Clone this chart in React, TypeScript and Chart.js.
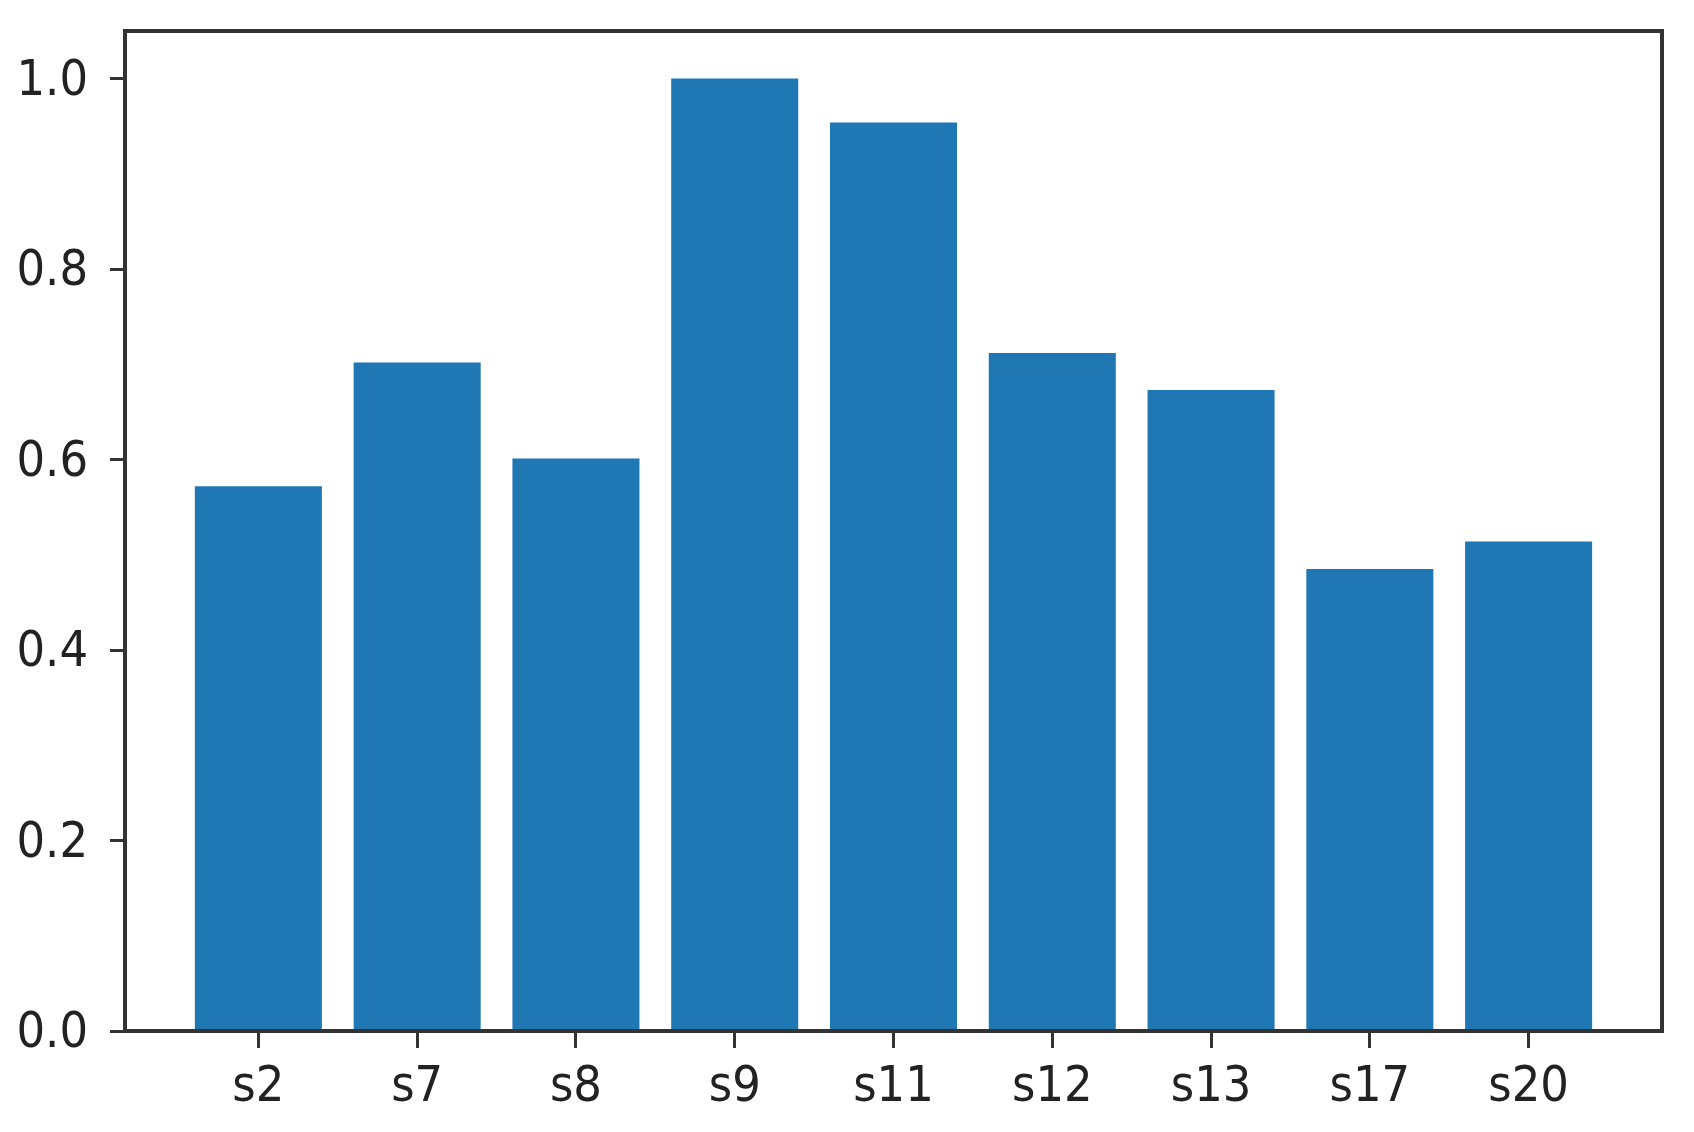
import React, { useEffect, useRef } from 'react';
import { Chart, registerables } from 'chart.js';

Chart.register(...registerables);

const categories = ['s2', 's7', 's8', 's9', 's11', 's12', 's13', 's17', 's20'];
const values = [0.572, 0.702, 0.601, 1.0, 0.954, 0.712, 0.673, 0.485, 0.514];
const yTickValues = [0, 0.2, 0.4, 0.6, 0.8, 1.0];

const FONT = { family: "'DejaVu Sans Condensed', 'DejaVu Sans', sans-serif", size: 50 };
const INK = '#222222';
const AXIS = '#333333';

export default function App() {
  const ref = useRef<HTMLCanvasElement | null>(null);

  useEffect(() => {
    document.body.style.margin = '0';
    const canvas = ref.current;
    if (!canvas) return;

    const framePlugin = {
      id: 'frame',
      afterDatasetsDraw(chart: any) {
        const { ctx, chartArea } = chart;
        const { left, top, right, bottom } = chartArea;
        ctx.save();
        ctx.strokeStyle = AXIS;
        ctx.lineWidth = 4;
        ctx.strokeRect(left, top, right - left, bottom - top);
        ctx.restore();
      },
    };

    const chart = new Chart(canvas, {
      type: 'bar',
      data: {
        datasets: [
          {
            data: categories.map((c, i) => ({ x: i, y: values[i] })),
            backgroundColor: '#1f77b4',
            borderWidth: 0,
            barPercentage: 0.8,
            categoryPercentage: 1,
          },
        ],
      },
      options: {
        animation: false,
        responsive: false,
        devicePixelRatio: 1,
        layout: { padding: { left: 0, right: 32, top: 31, bottom: 0 } },
        plugins: {
          legend: { display: false },
          tooltip: { enabled: false },
        },
        scales: {
          x: {
            type: 'linear',
            offset: false,
            min: -0.84,
            max: 8.84,
            afterBuildTicks: (s: any) => {
              s.ticks = categories.map((_, i) => ({ value: i }));
            },
            afterFit: (s: any) => {
              s.height = 101;
              s.paddingLeft = 0;
              s.paddingRight = 0;
            },
            ticks: {
              autoSkip: false,
              maxRotation: 0,
              minRotation: 0,
              padding: 10,
              color: INK,
              font: FONT,
              callback: (v: any) => categories[Math.round(Number(v))] ?? '',
            },
            grid: {
              offset: false,
              drawOnChartArea: false,
              drawTicks: true,
              tickLength: 17,
              tickWidth: 3,
              tickColor: AXIS,
            },
            border: { display: false },
          },
          y: {
            type: 'linear',
            min: 0,
            max: 1.05,
            afterBuildTicks: (s: any) => {
              s.ticks = yTickValues.map((v) => ({ value: v }));
            },
            afterFit: (s: any) => {
              s.width = 125;
              s.paddingTop = 0;
              s.paddingBottom = 0;
            },
            ticks: {
              padding: 22,
              labelOffset: 3,
              color: INK,
              font: FONT,
              callback: (v: any) => Number(v).toFixed(1),
            },
            grid: {
              drawOnChartArea: false,
              drawTicks: true,
              tickLength: 15,
              tickWidth: 3,
              tickColor: AXIS,
            },
            border: { display: false },
          },
        },
      },
      plugins: [framePlugin],
    });

    return () => chart.destroy();
  }, []);

  return (
    <div style={{ position: 'absolute', left: 0, top: 0, width: 1694, height: 1132, background: '#fff' }}>
      <canvas ref={ref} width={1694} height={1132} style={{ display: 'block', width: 1694, height: 1132 }} />
    </div>
  );
}
